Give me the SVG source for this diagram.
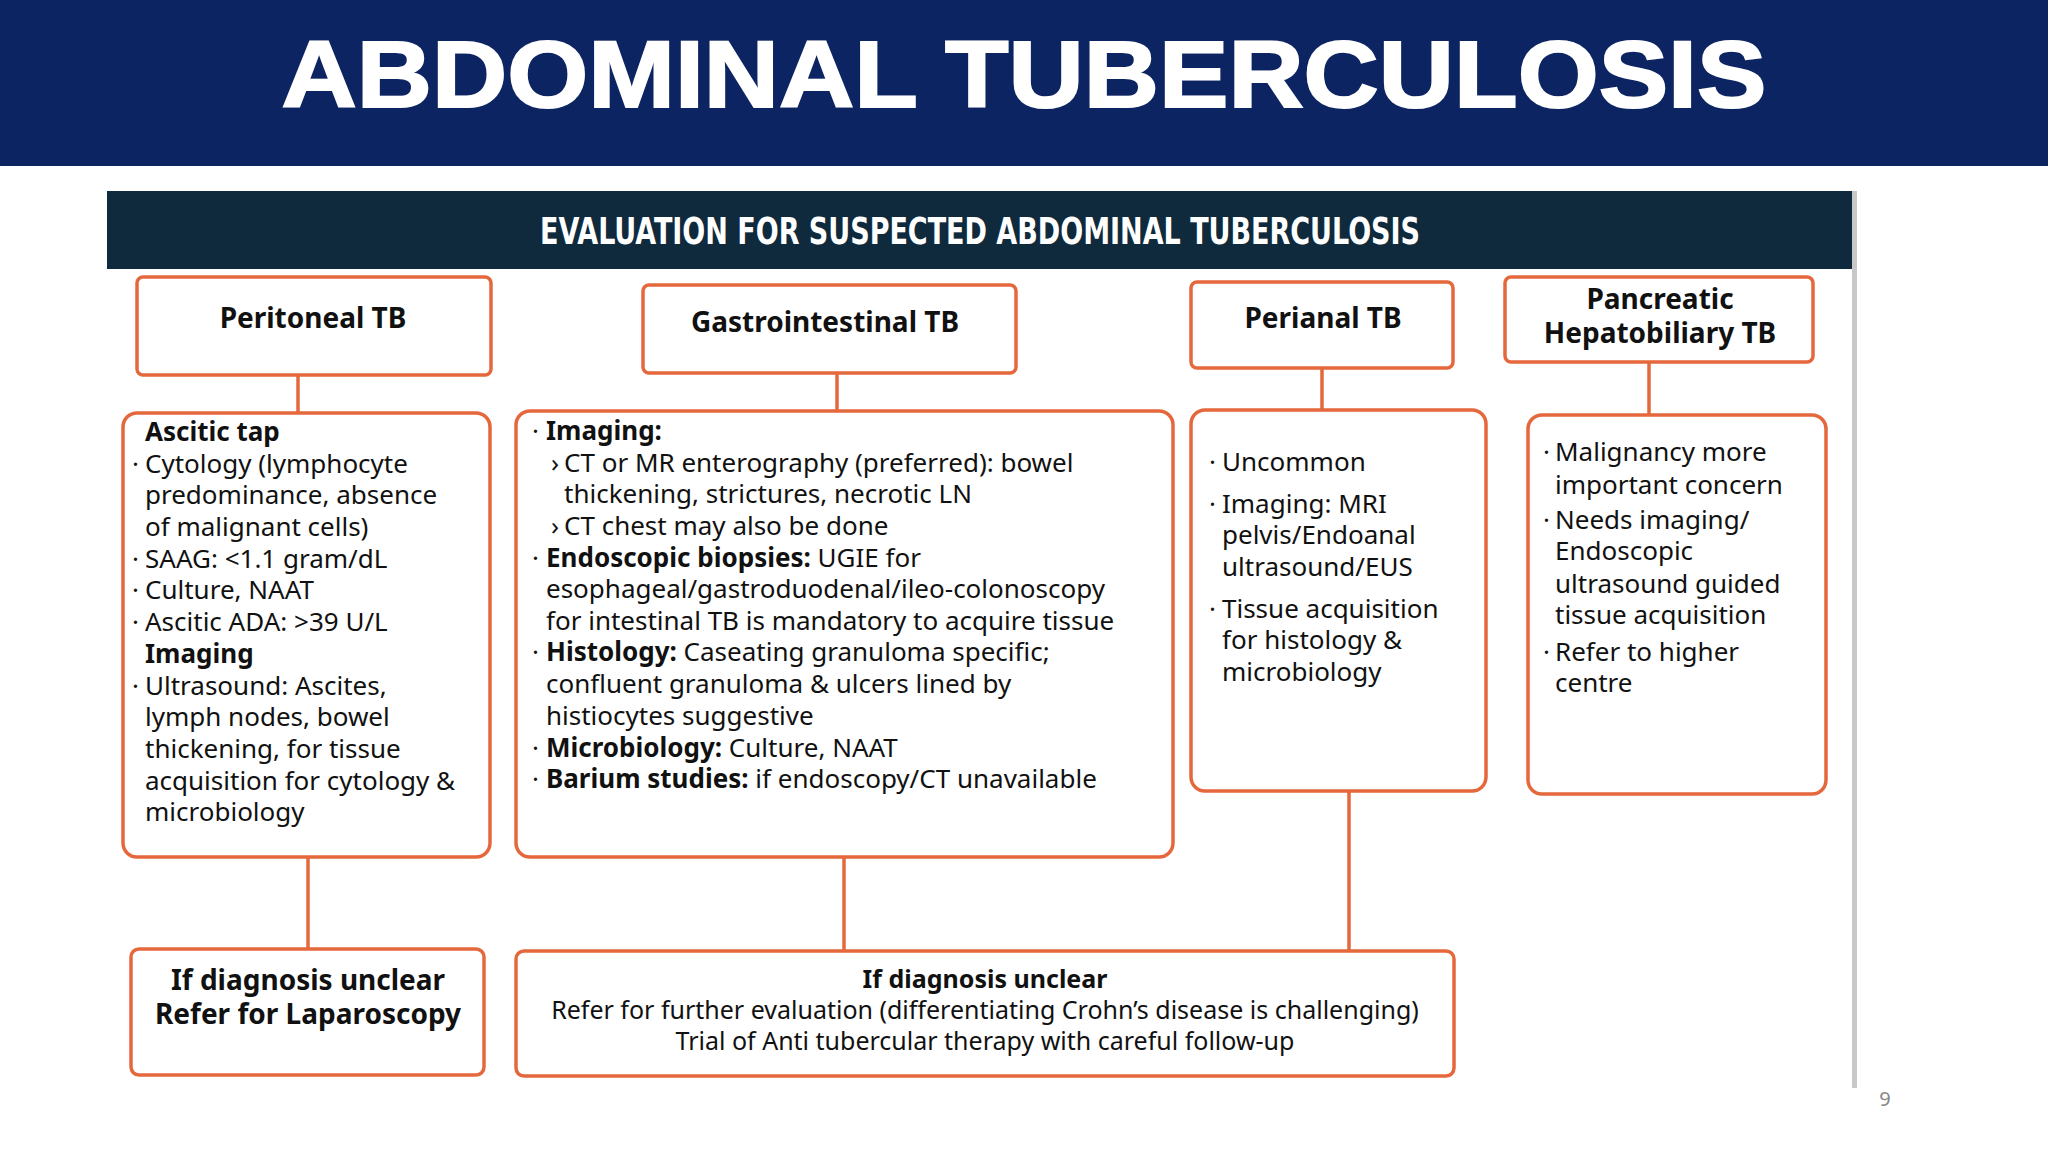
<svg xmlns="http://www.w3.org/2000/svg" width="2048" height="1152" viewBox="0 0 2048 1152">
<style>
.box{fill:#fff;stroke:#e5683c;stroke-width:3.5}
.ln{stroke:#e5683c;stroke-width:3.5;fill:none}
text{font-family:"Noto Sans","DejaVu Sans",sans-serif;fill:#111;font-size:26px}
.b{font-weight:bold}
.h{font-weight:bold;font-size:28px}
</style>
<rect width="2048" height="1152" fill="#fff"/>
<rect width="2048" height="166" fill="#0c2461"/>
<text x="1024" y="107" text-anchor="middle" textLength="1485" lengthAdjust="spacingAndGlyphs" style="font-family:'Liberation Sans',Arial,sans-serif;font-weight:bold;font-size:94px;fill:#fff;stroke:#fff;stroke-width:2">ABDOMINAL TUBERCULOSIS</text>
<rect x="107" y="191" width="1745" height="78" fill="#0f2a3d"/>
<text x="980" y="244" text-anchor="middle" textLength="880" lengthAdjust="spacingAndGlyphs" style="font-family:'DejaVu Sans Condensed','DejaVu Sans',sans-serif;font-weight:bold;font-size:38px;fill:#fff">EVALUATION FOR SUSPECTED ABDOMINAL TUBERCULOSIS</text>
<rect x="1852" y="191" width="5" height="897" fill="#c8c8c8"/>
<g id="connectors">
<line class="ln" x1="298" y1="375" x2="298" y2="413"/>
<line class="ln" x1="837" y1="373" x2="837" y2="411"/>
<line class="ln" x1="1322" y1="368" x2="1322" y2="410"/>
<line class="ln" x1="1649" y1="362" x2="1649" y2="415"/>
<line class="ln" x1="308" y1="857" x2="308" y2="949"/>
<line class="ln" x1="844" y1="857" x2="844" y2="951"/>
<line class="ln" x1="1349" y1="791" x2="1349" y2="951"/>
</g>
<g id="peritoneal-head"><rect class="box" x="137" y="277" width="354" height="98" rx="6"/><text class="h" x="313" y="328" text-anchor="middle">Peritoneal TB</text></g>
<g id="gi-head"><rect class="box" x="643" y="285" width="373" height="88" rx="6"/><text class="h" x="825" y="332" text-anchor="middle">Gastrointestinal TB</text></g>
<g id="perianal-head"><rect class="box" x="1191" y="282" width="262" height="86" rx="6"/><text class="h" x="1323" y="328" text-anchor="middle">Perianal TB</text></g>
<g id="pancreatic-head"><rect class="box" x="1505" y="277" width="308" height="85" rx="6"/><text class="h" x="1660" y="343" text-anchor="middle"><tspan x="1660" y="309">Pancreatic</tspan><tspan x="1660" y="343">Hepatobiliary TB</tspan></text></g>
<g id="peritoneal-body"><rect class="box" x="123" y="413" width="367" height="444" rx="14"/>
<text><tspan x="145" y="441" class="b">Ascitic tap</tspan><tspan x="132" y="473">·</tspan><tspan x="145" y="473">Cytology (lymphocyte</tspan><tspan x="145" y="504">predominance, absence</tspan><tspan x="145" y="536">of malignant cells)</tspan><tspan x="132" y="568">·</tspan><tspan x="145" y="568">SAAG: &lt;1.1 gram/dL</tspan><tspan x="132" y="599">·</tspan><tspan x="145" y="599">Culture, NAAT</tspan><tspan x="132" y="631">·</tspan><tspan x="145" y="631">Ascitic ADA: &gt;39 U/L</tspan><tspan x="145" y="663" class="b">Imaging</tspan><tspan x="132" y="695">·</tspan><tspan x="145" y="695">Ultrasound: Ascites,</tspan><tspan x="145" y="726">lymph nodes, bowel</tspan><tspan x="145" y="758">thickening, for tissue</tspan><tspan x="145" y="790">acquisition for cytology &amp;</tspan><tspan x="145" y="821">microbiology</tspan></text>
</g>
<g id="gi-body"><rect class="box" x="516" y="411" width="657" height="446" rx="14"/>
<text><tspan x="532" y="440">·</tspan><tspan x="546" y="440" class="b">Imaging:</tspan><tspan x="551" y="472">›</tspan><tspan x="564" y="472">CT or MR enterography (preferred): bowel</tspan><tspan x="564" y="503">thickening, strictures, necrotic LN</tspan><tspan x="551" y="535">›</tspan><tspan x="564" y="535">CT chest may also be done</tspan><tspan x="532" y="567">·</tspan><tspan x="546" y="567" class="b">Endoscopic biopsies:</tspan><tspan> UGIE for</tspan><tspan x="546" y="598">esophageal/gastroduodenal/ileo-colonoscopy</tspan><tspan x="546" y="630">for intestinal TB is mandatory to acquire tissue</tspan><tspan x="532" y="661">·</tspan><tspan x="546" y="661" class="b">Histology:</tspan><tspan> Caseating granuloma specific;</tspan><tspan x="546" y="693">confluent granuloma &amp; ulcers lined by</tspan><tspan x="546" y="725">histiocytes suggestive</tspan><tspan x="532" y="757">·</tspan><tspan x="546" y="757" class="b">Microbiology:</tspan><tspan> Culture, NAAT</tspan><tspan x="532" y="788">·</tspan><tspan x="546" y="788" class="b">Barium studies:</tspan><tspan> if endoscopy/CT unavailable</tspan></text>
</g>
<g id="perianal-body"><rect class="box" x="1191" y="410" width="295" height="381" rx="14"/>
<text><tspan x="1209" y="471">·</tspan><tspan x="1222" y="471">Uncommon</tspan><tspan x="1209" y="513">·</tspan><tspan x="1222" y="513">Imaging: MRI</tspan><tspan x="1222" y="544">pelvis/Endoanal</tspan><tspan x="1222" y="576">ultrasound/EUS</tspan><tspan x="1209" y="618">·</tspan><tspan x="1222" y="618">Tissue acquisition</tspan><tspan x="1222" y="649">for histology &amp;</tspan><tspan x="1222" y="681">microbiology</tspan></text>
</g>
<g id="pancreatic-body"><rect class="box" x="1528" y="415" width="298" height="379" rx="14"/>
<text><tspan x="1543" y="461">·</tspan><tspan x="1555" y="461">Malignancy more</tspan><tspan x="1555" y="494">important concern</tspan><tspan x="1543" y="529">·</tspan><tspan x="1555" y="529">Needs imaging/</tspan><tspan x="1555" y="560">Endoscopic</tspan><tspan x="1555" y="593">ultrasound guided</tspan><tspan x="1555" y="624">tissue acquisition</tspan><tspan x="1543" y="661">·</tspan><tspan x="1555" y="661">Refer to higher</tspan><tspan x="1555" y="692">centre</tspan></text>
</g>
<g id="bottom-left"><rect class="box" x="131" y="949" width="353" height="126" rx="8"/>
<text class="h" text-anchor="middle"><tspan x="308" y="990">If diagnosis unclear</tspan><tspan x="308" y="1024">Refer for Laparoscopy</tspan></text></g>
<g id="bottom-right"><rect class="box" x="516" y="951" width="938" height="125" rx="8"/>
<text text-anchor="middle" style="font-size:25px"><tspan x="985" y="988" class="b">If diagnosis unclear</tspan><tspan x="985" y="1019">Refer for further evaluation (differentiating Crohn’s disease is challenging)</tspan><tspan x="985" y="1050">Trial of Anti tubercular therapy with careful follow-up</tspan></text></g>
<text x="1885" y="1106" text-anchor="middle" style="font-size:20px;fill:#888">9</text>
</svg>
